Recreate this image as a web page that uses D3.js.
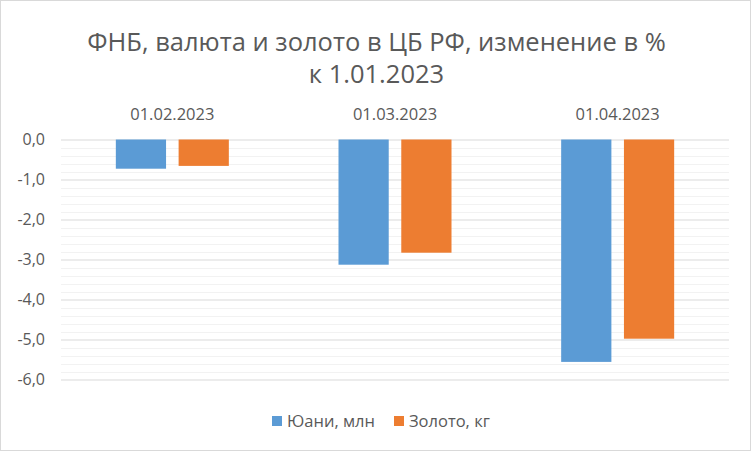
<!DOCTYPE html>
<html>
<head>
<meta charset="utf-8">
<script src="https://cdn.jsdelivr.net/npm/d3@7"></script>
<style>
  body { margin: 0; background: #fff; }
  svg text { font-family: 'Open Sans', 'Noto Sans', sans-serif; fill: #595959; }
</style>
</head>
<body>
<div id="chart"></div>
<script>
// данные - data
var categories = ['01.02.2023', '01.03.2023', '01.04.2023'];
var seriesNames = ['Юани, млн', 'Золото, кг'];
var yuan = [-0.73, -3.13, -5.56];
var gold = [-0.66, -2.83, -4.98];
var yTicks = [0, -1, -2, -3, -4, -5, -6];
var colors = ['#5b9bd5', '#ed7d31'];

var width = 752, height = 452;
var margin = {top: 139.5, right: 23, bottom: 72.5, left: 61};

var svg = d3.select('#chart')
  .append('svg')
  .attr('width', width)
  .attr('height', height);

// рамка - chart border
svg.append('rect')
  .attr('x', 0.5).attr('y', 0.5)
  .attr('width', width - 2).attr('height', height - 2)
  .attr('fill', '#fff')
  .attr('stroke', '#d9d9d9');

var x = d3.scaleBand()
  .domain(categories)
  .range([margin.left, width - margin.right]);

var x1 = d3.scaleBand()
  .domain(seriesNames)
  .range([0, 113])
  .paddingInner(0.2);

var y = d3.scaleLinear()
  .domain([0, -6])
  .range([margin.top, height - margin.bottom]);

// сетка - minor then major gridlines
var minor = d3.range(0, -6.01, -0.2).filter(function(v){ return Math.abs(v - Math.round(v)) > 0.01; });
svg.append('g')
  .selectAll('line')
  .data(minor)
  .join('line')
  .attr('x1', margin.left).attr('x2', width - margin.right)
  .attr('y1', function(d){ return Math.round(y(d)) + 0.5; })
  .attr('y2', function(d){ return Math.round(y(d)) + 0.5; })
  .attr('stroke', '#f2f2f2');

var yAxis = svg.append('g')
  .attr('transform', 'translate(' + margin.left + ',0)')
  .call(d3.axisLeft(y)
    .tickValues(yTicks)
    .tickSize(-(width - margin.left - margin.right))
    .tickPadding(16)
    .tickFormat(function(d){ return d3.format('.1f')(d).replace('.', ',').replace('−', '-'); }));

yAxis.select('.domain').remove();
yAxis.selectAll('line').attr('stroke', '#d9d9d9');
yAxis.selectAll('text')
  .attr('font-size', '16px')
  .attr('fill', '#595959')
  .style('font-family', "'Open Sans', sans-serif");

// столбики - bars
var rows = categories.map(function(c, i){ return {cat: c, vals: [yuan[i], gold[i]]}; });

var groups = svg.append('g')
  .selectAll('g')
  .data(rows)
  .join('g')
  .attr('transform', function(d){ return 'translate(' + (x(d.cat) + (x.bandwidth() - 113) / 2) + ',0)'; });

groups.selectAll('rect')
  .data(function(d){ return d.vals.map(function(v, j){ return {name: seriesNames[j], v: v, j: j}; }); })
  .join('rect')
  .attr('x', function(d){ return x1(d.name); })
  .attr('width', x1.bandwidth())
  .attr('y', y(0))
  .attr('height', function(d){ return y(d.v) - y(0); })
  .attr('fill', function(d){ return colors[d.j]; });

// подписи категорий сверху - category labels on top
svg.append('g')
  .selectAll('text')
  .data(categories)
  .join('text')
  .text(function(d){ return d; })
  .attr('x', function(d){ return x(d) + x.bandwidth() / 2; })
  .attr('y', 120)
  .attr('text-anchor', 'middle')
  .attr('font-size', '16.5px');

// заголовок - title
var title = ['ФНБ, валюта и золото в ЦБ РФ, изменение в %', 'к 1.01.2023'];
svg.append('g')
  .selectAll('text')
  .data(title)
  .join('text')
  .text(function(d){ return d; })
  .attr('x', width / 2 + 0.5)
  .attr('y', function(d, i){ return 51 + i * 32; })
  .attr('text-anchor', 'middle')
  .attr('font-size', '25.5px');

// легенда - legend
var legend = svg.append('g');
var lx = [272, 394];
seriesNames.forEach(function(n, i){
  legend.append('rect')
    .attr('x', lx[i]).attr('y', 416)
    .attr('width', 10).attr('height', 10)
    .attr('fill', colors[i]);
  legend.append('text')
    .text(n)
    .attr('x', lx[i] + 15)
    .attr('y', 426.5)
    .attr('font-size', '16.5px');
});
</script>
</body>
</html>
